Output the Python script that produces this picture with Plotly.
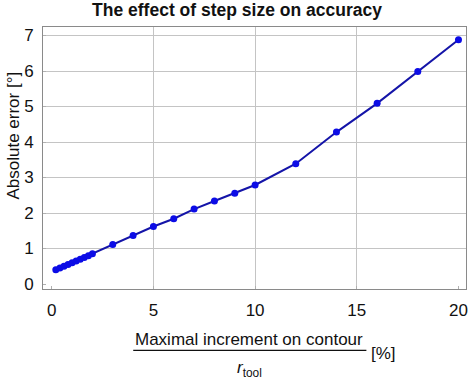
import plotly.graph_objects as go

# Data
increment_pct = [0.2, 0.4, 0.6, 0.8, 1.0, 1.2, 1.4, 1.6, 1.8, 2.0,
                 3, 4, 5, 6, 7, 8, 9, 10, 12, 14, 16, 18, 20]
abs_error = [0.40, 0.45, 0.50, 0.55, 0.60, 0.65, 0.70, 0.75, 0.80, 0.85,
             1.11, 1.37, 1.62, 1.84, 2.11, 2.34, 2.56, 2.79, 3.39, 4.28, 5.09, 5.99, 6.88]

x_ticks = [0, 5, 10, 15, 20]
x_grid = [5, 10, 15]
y_ticks = [0, 1, 2, 3, 4, 5, 6, 7]
y_grid = [1, 2, 3, 4, 5, 6, 7]

FONT = "Liberation Sans, Arial, sans-serif"

fig = go.Figure()
fig.add_trace(go.Scatter(
    x=increment_pct, y=abs_error, mode="lines+markers",
    line=dict(color="#1414a8", width=2),
    marker=dict(color="#0c0ce6", size=7),
    showlegend=False,
))

axis_common = dict(
    showline=True, mirror=True, linecolor="#8a8a8a", linewidth=1,
    ticks="inside", ticklen=3, tickcolor="#b0b0b0",
    showgrid=False, zeroline=False,
    tickfont=dict(family=FONT, size=17, color="#111"),
)

fig.update_layout(
    width=474, height=379,
    margin=dict(l=43, r=6, t=27, b=90),
    paper_bgcolor="white", plot_bgcolor="white",
    title=dict(text="<b>The effect of step size on accuracy</b>",
               x=0.5, xanchor="center", y=0.975, yanchor="middle",
               font=dict(family=FONT, size=17.5, color="#111")),
    xaxis=dict(range=[-0.43, 20.37], tickvals=x_ticks, ticklabelstandoff=6,
               minor=dict(tickvals=x_grid, showgrid=True, gridcolor="#c4c4c4", gridwidth=1, ticks=""),
               **axis_common),
    yaxis=dict(range=[-0.14, 7.24], tickvals=y_ticks, ticklabelstandoff=5,
               minor=dict(tickvals=y_grid, showgrid=True, gridcolor="#c4c4c4", gridwidth=1, ticks=""),
               **axis_common),
)

annots = [
    dict(text="Absolute error [°]", x=-0.069, y=0.585, textangle=-90,
         xanchor="center", yanchor="middle", font=dict(family=FONT, size=17, color="#111")),
    dict(text="Maximal increment on contour", x=0.487, y=-0.193,
         xanchor="center", yanchor="middle", font=dict(family=FONT, size=17, color="#111")),
    dict(text="[%]", x=0.805, y=-0.247,
         xanchor="center", yanchor="middle", font=dict(family=FONT, size=17, color="#111")),
    dict(text="<i>r</i><sub>tool</sub>", x=0.487, y=-0.305,
         xanchor="center", yanchor="middle", font=dict(family=FONT, size=17, color="#111")),
]
for a in annots:
    fig.add_annotation(xref="paper", yref="paper", showarrow=False, **a)

fig.add_shape(type="line", xref="paper", yref="paper",
              x0=0.2133, x1=0.7645, y0=-0.234, y1=-0.234,
              line=dict(color="#111", width=1.3))

fig.write_html("out.html",
               config={"displayModeBar": False},
               post_script="document.body.style.margin='0';document.body.style.padding='0';")
